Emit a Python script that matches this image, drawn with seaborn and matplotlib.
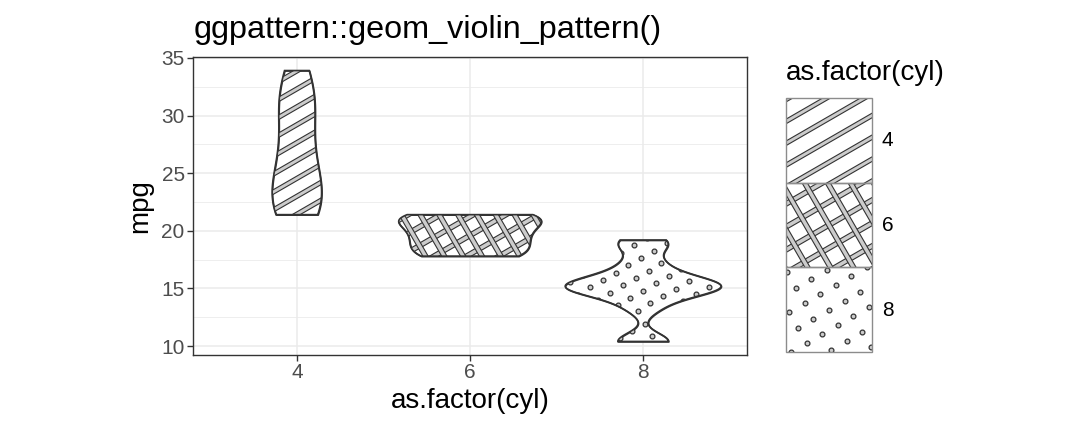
import numpy as np
import pandas as pd
import matplotlib.pyplot as plt
import seaborn as sns
from matplotlib.collections import PolyCollection
from matplotlib.patches import Polygon, PathPatch, Rectangle
from matplotlib.path import Path

# mtcars: mpg split by number of cylinders
cyl_levels = ["4", "6", "8"]
mpg_cyl4 = [22.8, 24.4, 22.8, 32.4, 30.4, 33.9, 21.5, 27.3, 26.0, 30.4, 21.4]
mpg_cyl6 = [21.0, 21.0, 21.4, 18.1, 19.2, 17.8, 19.7]
mpg_cyl8 = [18.7, 14.3, 16.4, 17.3, 15.2, 10.4, 10.4, 14.7, 15.5, 15.2, 13.3, 19.2, 15.8, 15.0]
y_ticks = [10, 15, 20, 25, 30, 35]
y_minor = [12.5, 17.5, 22.5, 27.5, 32.5]
patterns = ["stripe", "crosshatch", "circle"]

LINE = "#333333"      # grey20
PAT_FILL = "#CCCCCC"  # grey80
GRID = "#EBEBEB"

df = pd.DataFrame({
    "cyl": ["4"] * len(mpg_cyl4) + ["6"] * len(mpg_cyl6) + ["8"] * len(mpg_cyl8),
    "mpg": mpg_cyl4 + mpg_cyl6 + mpg_cyl8,
})


def nrd0Factor(kde):
    """R's bw.nrd0 expressed as a scipy gaussian_kde factor."""
    x = kde.dataset[0]
    sd = np.std(x, ddof=1)
    q1, q3 = np.percentile(x, [25, 75])
    lo = min(sd, (q3 - q1) / 1.34)
    return 0.9 * lo * len(x) ** -0.2 / sd


def addStripes(ax, clipPath, angles, spacing, band=4.0, zorder=3):
    # stripes are laid out in pixel space, then mapped back to data coords
    ext = clipPath.transformed(ax.transData).get_extents()
    c = np.array([(ext.x0 + ext.x1) / 2, (ext.y0 + ext.y1) / 2])
    r = np.hypot(ext.width, ext.height) / 2 + spacing
    inv = ax.transData.inverted()
    nMax = int(r // spacing) + 2
    for angle in angles:
        a = np.deg2rad(angle)
        d = np.array([np.cos(a), np.sin(a)])
        n = np.array([-np.sin(a), np.cos(a)])
        for k in range(-nMax, nMax + 1):
            off = k * spacing
            pts = np.array([c + n * (off - band / 2) - d * r,
                            c + n * (off - band / 2) + d * r,
                            c + n * (off + band / 2) + d * r,
                            c + n * (off + band / 2) - d * r])
            poly = Polygon(inv.transform(pts), closed=True, fc=PAT_FILL, ec=LINE,
                           lw=0.8, zorder=zorder)
            ax.add_patch(poly)
            poly.set_clip_path(clipPath, ax.transData)


def addCircles(ax, clipPath, spacing, angle=30, size=12, zorder=3):
    ext = clipPath.transformed(ax.transData).get_extents()
    c = np.array([(ext.x0 + ext.x1) / 2, (ext.y0 + ext.y1) / 2])
    r = np.hypot(ext.width, ext.height) / 2 + spacing
    a = np.deg2rad(angle)
    u = np.array([np.cos(a), np.sin(a)])
    v = np.array([-np.sin(a), np.cos(a)])
    nMax = int(r // spacing) + 2
    pts = np.array([c + i * spacing * u + j * spacing * v
                    for i in range(-nMax, nMax + 1) for j in range(-nMax, nMax + 1)])
    data = ax.transData.inverted().transform(pts)
    sc = ax.scatter(data[:, 0], data[:, 1], s=size, marker="o", facecolor=PAT_FILL,
                    edgecolor=LINE, linewidth=0.9, zorder=zorder)
    sc.set_clip_path(clipPath, ax.transData)


def addPattern(ax, clipPath, kind, scale=1.0):
    if kind == "stripe":
        addStripes(ax, clipPath, [30], 15.5 * scale)
    elif kind == "crosshatch":
        addStripes(ax, clipPath, [30, 120], 16.3 * scale, band=4.6)
    else:
        addCircles(ax, clipPath, 14.7 * scale)


sns.set_theme(style="white")
plt.rcParams["font.family"] = ["Liberation Sans", "DejaVu Sans"]

fig = plt.figure(figsize=(10.8, 4.32), dpi=100)
ax = fig.add_axes([193 / 1080, 1 - 355 / 432, 554 / 1080, 298 / 432])

sns.violinplot(data=df, x="cyl", y="mpg", order=cyl_levels, color="white", saturation=1,
               linecolor=LINE, linewidth=1.2, inner=None, cut=0, gridsize=512,
               bw_method=nrd0Factor, density_norm="area", common_norm=True,
               width=0.9, ax=ax)

ax.set_xlim(-0.6, 2.6)
ax.set_ylim(9.225, 35.075)

# patterns inside each violin, outline redrawn on top
polys = [coll for coll in ax.collections if isinstance(coll, PolyCollection)]
polys.sort(key=lambda coll: coll.get_paths()[0].vertices[:, 0].mean())
for coll, kind in zip(polys, patterns):
    path = coll.get_paths()[0]
    addPattern(ax, path, kind)
    ax.add_patch(PathPatch(path, fill=False, ec=LINE, lw=1.2, zorder=5,
                           transform=ax.transData))

ax.set_yticks(y_ticks)
ax.set_yticks(y_minor, minor=True)
ax.set_xticks(range(len(cyl_levels)))
ax.set_xticklabels(cyl_levels)
ax.grid(which="major", color=GRID, lw=1.1)
ax.grid(which="minor", axis="y", color=GRID, lw=0.6)
ax.set_axisbelow(True)
for sp in ax.spines.values():
    sp.set_color(LINE)
    sp.set_linewidth(1.0)
ax.tick_params(which="major", length=4, width=1, color=LINE, labelcolor="#4D4D4D",
               labelsize=15, pad=2, left=True, bottom=True)
ax.tick_params(which="minor", length=0)
ax.set_xlabel("as.factor(cyl)", fontsize=20, color="black", labelpad=4)
ax.set_ylabel("mpg", fontsize=20, color="black", labelpad=6)

fig.text(194 / 1080, 1 - 38 / 432, "ggpattern::geom_violin_pattern()", fontsize=23.3,
         ha="left", va="baseline", color="black")

# legend drawn by hand: one tall key per level
lax = fig.add_axes([786 / 1080, 1 - 352 / 432, 86 / 1080, 254 / 432])
lax.set_xlim(0, 1)
lax.set_ylim(0, 3)
lax.axis("off")
for i, (lvl, kind) in enumerate(zip(cyl_levels, patterns)):
    y0 = 2 - i
    keyPath = Path([(0, y0), (1, y0), (1, y0 + 1), (0, y0 + 1), (0, y0)], closed=True)
    addPattern(lax, keyPath, kind, scale=1.22)
    lax.add_patch(Rectangle((0, y0), 1, 1, fill=False, ec="#8C8C8C", lw=1.0, zorder=6,
                            clip_on=False))
    fig.text(882 / 1080, 1 - (140 + 85 * i) / 432, lvl, fontsize=15, ha="left",
             va="center", color="black")
fig.text(786 / 1080, 1 - 80 / 432, "as.factor(cyl)", fontsize=20, ha="left",
         va="baseline", color="black")

fig.savefig("out.png", dpi=100)
